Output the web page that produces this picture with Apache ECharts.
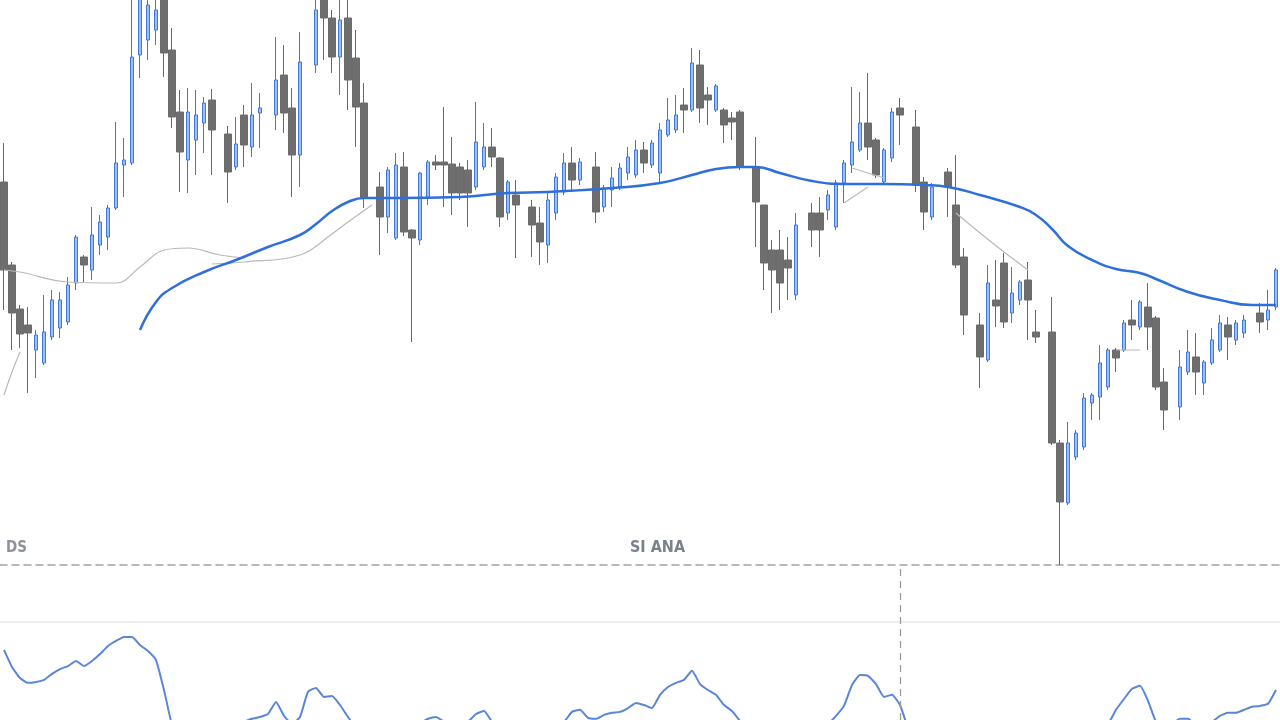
<!DOCTYPE html>
<html>
<head>
<meta charset="utf-8">
<script src="https://cdn.jsdelivr.net/npm/echarts@6/dist/echarts.min.js"></script>
<style>
  html, body { margin: 0; padding: 0; background: #ffffff; }
  #chart { width: 1280px; height: 720px; }
</style>
</head>
<body>
<div id="chart"></div>
<script>
// ---------- DATA ----------
const SLOT_COUNT = 160;
const categories = Array.from({ length: SLOT_COUNT }, (_, i) => 'T' + (i + 1));

const candleOpen = [
  81.8,73.5,69.1,67.5,65.0,63.7,66.3,67.2,67.8,71.7,
  74.3,73.0,75.5,76.3,79.2,83.5,83.7,94.5,96.0,97.0,
  100.8,95.0,88.8,84.0,86.0,87.7,90.0,null,86.6,83.3,
  88.5,85.3,88.7,null,88.5,92.5,89.2,84.5,null,93.5,
  101.5,98.2,94.3,98.2,94.2,89.7,null,81.3,78.3,76.2,
  83.3,77.0,76.0,80.3,83.8,83.8,83.6,83.3,83.0,81.3,
  83.3,85.3,84.2,78.7,80.5,null,79.3,77.7,75.5,78.7,
  80.8,83.7,82.0,null,83.3,79.3,81.0,81.3,82.7,82.5,
  85.0,83.5,82.7,86.5,87.0,89.5,89.0,93.5,90.5,89.0,
  89.0,88.2,88.8,null,83.3,79.5,75.0,75.0,74.0,70.5,
  null,78.7,78.7,79.0,77.3,81.7,83.5,85.0,87.7,86.0,
  81.8,84.2,89.2,null,87.3,81.8,78.3,null,82.8,79.5,
  74.3,null,67.5,64.0,70.0,73.7,68.7,70.0,72.0,66.8,
  null,66.8,55.7,49.7,54.3,55.3,59.7,60.3,61.3,65.0,
  65.0,68.0,67.3,69.3,68.2,61.8,null,59.3,62.8,64.3,
  61.7,63.7,65.0,67.5,66.0,66.7,null,68.7,68.0,69.3
];
const candleClose = [
  73.0,68.7,66.6,66.7,66.5,66.8,70.0,70.0,71.5,76.3,
  73.5,76.5,77.8,79.2,83.7,84.0,94.3,101.0,99.5,99.0,
  94.7,88.3,84.8,88.8,88.5,89.7,87.0,null,82.8,85.6,
  85.5,88.5,89.2,null,92.0,88.7,84.5,93.8,null,99.0,
  98.2,94.3,98.0,92.0,89.3,80.3,null,78.3,83.0,83.5,
  76.8,76.2,82.7,83.8,83.5,83.5,80.7,80.7,80.7,85.8,
  85.3,84.3,78.3,81.8,79.5,null,77.5,75.8,80.0,82.3,
  83.7,82.0,83.8,null,78.8,81.2,82.2,83.2,84.3,85.0,
  83.7,85.7,87.0,88.0,88.5,89.0,93.7,89.2,90.0,91.4,
  87.5,87.8,83.3,null,79.8,73.7,73.0,71.7,73.2,77.5,
  null,77.0,77.0,80.5,81.7,83.7,85.8,87.7,85.3,82.5,
  85.0,88.8,88.5,null,81.5,78.8,81.3,null,81.3,73.5,
  68.5,null,64.3,71.7,69.4,67.8,70.7,71.8,70.0,66.3,
  null,55.7,49.8,55.7,56.7,60.2,60.5,63.7,65.0,64.2,
  67.7,67.5,69.8,67.3,61.3,59.0,null,63.3,64.8,62.8,
  63.8,66.0,67.7,66.3,67.7,68.0,null,67.8,69.0,73.0
];
const candleLow = [
  69.0,65.0,65.2,60.7,62.2,63.5,66.0,66.2,67.5,71.0,
  71.8,72.0,74.5,75.0,79.0,80.3,83.5,92.2,94.0,95.5,
  92.3,87.2,80.8,80.7,82.5,84.7,82.5,null,79.7,83.0,
  83.3,84.3,85.2,null,87.0,86.7,80.3,81.3,null,92.7,
  94.0,92.7,90.5,89.0,85.3,79.2,null,74.5,76.7,76.0,
  76.4,65.8,75.5,79.5,83.0,79.3,78.5,80.0,77.3,81.0,
  83.0,83.3,77.3,78.0,74.2,null,74.3,73.5,73.7,78.0,
  80.5,80.8,81.5,null,77.7,78.8,79.3,81.0,82.0,82.2,
  82.7,83.2,81.7,86.3,86.7,86.7,88.8,87.7,87.5,88.8,
  85.7,86.0,83.0,null,75.3,71.0,68.7,69.0,70.0,70.0,
  null,75.3,74.3,78.0,77.0,79.7,82.7,84.8,84.0,82.2,
  81.5,83.8,85.5,null,80.8,77.0,78.0,null,78.3,73.2,
  66.5,null,61.2,63.8,67.3,67.2,67.7,69.5,66.0,65.7,
  null,55.5,43.5,49.5,54.0,55.0,58.0,58.0,61.0,62.8,
  64.8,66.0,67.0,65.0,61.0,57.0,null,58.0,62.5,60.5,
  60.5,63.5,64.8,64.0,65.5,66.2,null,66.7,67.0,69.0
];
const candleHigh = [
  85.7,73.8,69.5,69.3,67.0,70.5,71.0,70.8,72.3,76.5,
  74.5,79.3,78.5,79.5,87.8,86.2,101.5,102.5,101.5,100.5,
  102.0,97.2,91.0,91.2,91.0,90.3,91.1,null,87.4,88.3,
  89.5,91.7,90.7,null,96.3,95.5,91.2,96.8,null,101.0,
  102.5,99.0,100.5,100.5,97.0,91.7,null,82.8,83.3,84.7,
  84.8,77.1,82.8,84.0,84.5,89.3,86.3,83.7,84.0,89.8,
  87.7,87.2,84.3,82.0,82.0,null,80.0,79.3,80.7,82.7,
  84.7,85.3,84.2,null,84.8,81.5,83.3,83.7,85.3,86.0,
  85.8,86.0,87.7,90.2,90.5,91.2,95.2,95.0,91.3,91.6,
  89.2,88.8,89.0,null,86.3,79.5,76.0,77.0,76.3,78.7,
  null,79.7,80.3,81.0,82.0,84.0,91.3,90.8,92.7,86.2,
  85.2,89.2,90.2,null,89.0,82.3,81.7,null,83.2,84.5,
  75.2,null,68.7,73.5,74.0,74.7,73.3,72.0,73.8,69.0,
  null,70.3,56.0,57.8,57.0,60.7,60.7,65.5,65.2,65.2,
  68.0,70.0,70.0,71.7,68.4,63.2,null,65.0,67.0,66.7,
  64.0,67.2,68.5,68.3,68.0,68.5,null,69.7,71.0,73.2
];

// long moving average (slot index, value)
const maLongPoints = [
  [17,67.0],[19,69.8],[21,71.2],[25,72.8],[29,74.0],[33,75.3],[37,76.5],[39,77.6],
  [41,78.9],[43,79.8],[45,80.2],[49,80.2],[57,80.3],[63,80.7],[68,80.8],[76,81.2],
  [82,81.7],[86,82.5],[89,83.1],[92,83.3],[94,83.3],[97,82.7],[101,81.9],[105,81.6],
  [110,81.6],[115,81.5],[118,81.3],[122,80.5],[127,79.3],[129,78.5],[131,77.1],
  [133,75.4],[136,74.0],[139,73.1],[142,72.7],[144,72.1],[148,70.8],[152,70.0],
  [156,69.5],[159,69.5]
];
// short moving average pieces
const maShortA = [[0,73.0],[2,72.8],[8,71.8],[14,71.7],[17,73.3],[20,75.0],[23,75.2],[27,74.5],[30,74.2]];
const maShortB = [[26,73.6],[30,73.8],[37,74.5],[41,76.6],[43,77.8],[46,79.5]];
const maShortC = [[0,60.5],[1,62.8],[2,64.8]];
const maShortD = [[105,79.7],[108,81.3]];
const maShortE = [[106,83.2],[110,82.2]];
const maShortF = [[119,78.7],[122,76.7],[125,74.8],[128,73.0]];
const maShortG = [[139,65.0],[142,65.0]];

// lower panel oscillator
const oscValues = [
  71.7,66.0,62.3,60.7,61.0,61.7,63.7,65.3,66.3,68.0,
  66.3,68.0,70.3,73.0,74.7,76.0,76.0,73.3,71.3,68.3,
  58.3,46.7,42.0,39.5,38.0,38.8,40.5,42.6,44.8,46.5,
  47.7,48.7,49.3,50.3,54.3,49.7,47.0,49.3,57.7,59.0,
  56.0,56.3,53.3,49.3,45.7,43.0,41.2,40.0,41.5,43.2,
  44.6,46.0,47.3,48.7,49.3,47.7,45.7,46.3,47.7,50.3,
  51.3,47.7,44.5,42.0,40.6,41.8,43.5,44.9,46.2,47.2,
  47.7,51.0,51.7,49.0,48.7,50.0,50.7,51.0,52.3,54.0,
  53.3,52.3,56.7,59.3,60.7,61.7,64.7,60.3,58.3,56.7,
  53.3,51.3,48.0,45.5,43.0,41.0,39.8,40.5,42.2,43.6,
  44.8,45.9,46.6,47.0,49.7,53.0,60.0,63.3,63.0,60.3,
  56.0,56.7,53.3,45.7,42.0,39.0,36.8,35.5,36.2,38.0,
  40.1,41.8,43.0,42.1,40.4,39.2,39.9,41.5,43.2,44.5,
  45.3,44.0,42.6,41.9,43.1,44.6,45.8,46.5,47.0,51.7,
  55.3,58.7,59.7,54.7,47.7,45.7,47.0,48.7,48.7,46.7,
  46.3,47.7,49.7,50.7,50.7,51.7,52.7,53.0,53.7,58.3
];
const oscAxisMin = 48.3;
const oscAxisMax = 100;
const oscGuideLevel = 81;
const markerSlot = 112;
const labelLeft = 'DS';
const labelCenter = 'SI ANA';

// ---------- BUILD ----------
function sparse(points) {
  const arr = new Array(SLOT_COUNT).fill(null);
  points.forEach(([i, v]) => { arr[i] = v; });
  return arr;
}
const upData = [], downData = [];
for (let i = 0; i < SLOT_COUNT; i++) {
  const o = candleOpen[i];
  if (o == null) { upData.push('-'); downData.push('-'); continue; }
  const item = [o, candleClose[i], candleLow[i], candleHigh[i]];
  if (candleClose[i] >= o) { upData.push(item); downData.push('-'); }
  else { downData.push(item); upData.push('-'); }
}

function grayLine(points) {
  return {
    type: 'line', xAxisIndex: 0, yAxisIndex: 0,
    data: sparse(points), connectNulls: true, smooth: 0.4,
    symbol: 'none', silent: true, z: 2,
    lineStyle: { color: '#b9b9b9', width: 1.2 }
  };
}

const chart = echarts.init(document.getElementById('chart'), null, { renderer: 'canvas' });
const option = {
  animation: false,
  backgroundColor: '#ffffff',
  grid: [
    { left: 0, right: 0, top: 0, height: 565 },
    { left: 0, right: 0, top: 565, bottom: 0 }
  ],
  xAxis: [
    { type: 'category', gridIndex: 0, data: categories, boundaryGap: true,
      axisLine: { show: true, lineStyle: { color: '#a3a3a3', width: 1.5, type: [7, 5] } },
      axisTick: { show: false }, axisLabel: { show: false }, splitLine: { show: false } },
    { type: 'category', gridIndex: 1, data: categories, boundaryGap: true,
      axisLine: { show: false }, axisTick: { show: false }, axisLabel: { show: false }, splitLine: { show: false } }
  ],
  yAxis: [
    { type: 'value', gridIndex: 0, min: 43.5, max: 100, show: false, splitLine: { show: false } },
    { type: 'value', gridIndex: 1, min: oscAxisMin, max: oscAxisMax, show: false, splitLine: { show: false } }
  ],
  graphic: [
    { type: 'text', left: 6, top: 541, silent: true,
      style: { text: labelLeft, fill: '#8c919a', font: 'bold 15px "Liberation Sans Narrow", "DejaVu Sans Condensed", sans-serif' } },
    { type: 'text', left: 630, top: 540, silent: true,
      style: { text: labelCenter, fill: '#7b818b', font: 'bold 16px "Liberation Sans Narrow", "DejaVu Sans Condensed", sans-serif' } }
  ],
  series: [
    { type: 'candlestick', name: 'down', xAxisIndex: 0, yAxisIndex: 0, data: downData,
      barWidth: 7, clip: true, z: 1,
      itemStyle: { color: '#6e6e6e', color0: '#6e6e6e', borderColor: '#6a6a6a', borderColor0: '#6a6a6a', borderWidth: 1 } },
    { type: 'candlestick', name: 'up', xAxisIndex: 0, yAxisIndex: 0, data: upData,
      barWidth: 4, clip: true, z: 1,
      itemStyle: { color: '#9fbff0', color0: '#9fbff0', borderColor: '#3d79dd', borderColor0: '#3d79dd', borderWidth: 1 } },
    grayLine(maShortA), grayLine(maShortB), grayLine(maShortC), grayLine(maShortD),
    grayLine(maShortE), grayLine(maShortF), grayLine(maShortG),
    { type: 'line', name: 'MA', xAxisIndex: 0, yAxisIndex: 0, data: sparse(maLongPoints),
      connectNulls: true, smooth: 0.5, symbol: 'none', silent: true, z: 3,
      lineStyle: { color: '#2f6fdc', width: 2.5 } },
    { type: 'line', name: 'osc', xAxisIndex: 1, yAxisIndex: 1, data: oscValues,
      symbol: 'none', smooth: 0.15, silent: true, z: 3, clip: true,
      lineStyle: { color: '#5a86d8', width: 2 },
      markLine: {
        silent: true, symbol: 'none', label: { show: false }, animation: false,
        data: [
          { yAxis: oscGuideLevel, lineStyle: { type: 'solid', color: '#e9e9e9', width: 1.5 } },
          { xAxis: categories[markerSlot], lineStyle: { type: [7, 5], color: '#9c9c9c', width: 1.3 } }
        ]
      } }
  ]
};
chart.setOption(option);
</script>
</body>
</html>
